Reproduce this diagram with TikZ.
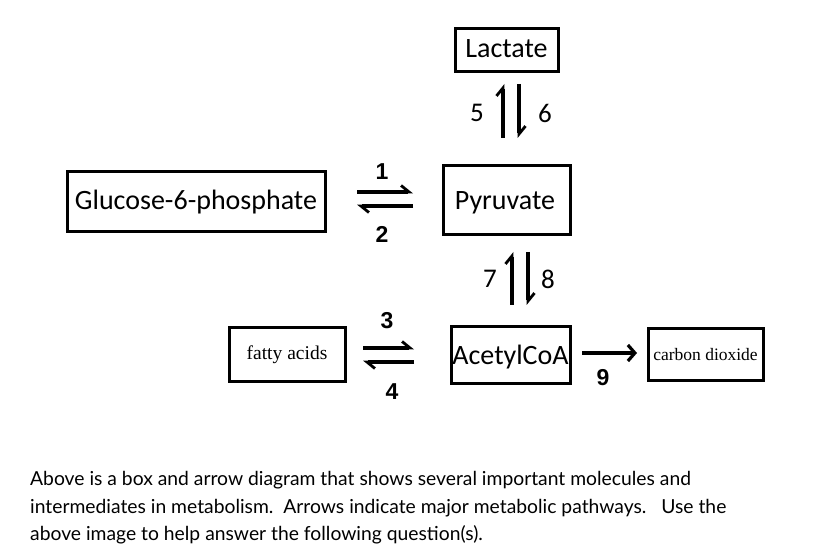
\documentclass[tikz,border=0pt]{standalone}
\usepackage{fontspec}
\setmainfont{Carlito}
\newfontfamily\calfont{Carlito}
\newfontfamily\timesfont{Liberation Serif}
\newfontfamily\arialfont{Liberation Sans}
\newfontfamily\latofont{Lato}
\usetikzlibrary{arrows.meta}
\begin{document}
\begin{tikzpicture}[x=1pt,y=-1pt,
  box/.style={draw,line width=3pt,inner sep=0pt,anchor=center},
  harp/.style={line width=3.5pt,-{Straight Barb[harpoon,length=8pt,width=13pt,line width=2.8pt]}},
  big/.style={font=\calfont\fontsize{28}{28}\selectfont,anchor=base,inner sep=0pt},
  numr/.style={font=\calfont\fontsize{27}{27}\selectfont},
  numb/.style={font=\arialfont\bfseries\fontsize{23}{23}\selectfont},
  para/.style={font=\latofont\fontsize{19.3}{27.5}\selectfont,anchor=base west,inner sep=0pt}]
\useasboundingbox (0,0) rectangle (823,556);
% boxes
\node[box,minimum width=103pt,minimum height=43pt] (lac) at (506.5,50.5) {};
\node[big] at (506.5,58) {Lactate};
\node[box,minimum width=258pt,minimum height=60pt] (g6p) at (196,202) {};
\node[big] at (196,210) {Glucose-6-phosphate};
\node[box,minimum width=127pt,minimum height=69pt] (pyr) at (506.5,200.5) {};
\node[big] at (505,210) {Pyruvate};
\node[box,minimum width=119pt,minimum height=57pt] (acc) at (510.5,355.5) {};
\node[big] at (510.5,365) {AcetylCoA};
\node[box,minimum width=116pt,minimum height=54pt] (fa) at (287,355) {};
\node[font=\timesfont\fontsize{19.5}{19.5}\selectfont] at (fa) {fatty acids};
\node[box,minimum width=115pt,minimum height=52pt] (co2) at (705.5,355) {};
\node[font=\timesfont\fontsize{17.5}{17.5}\selectfont] at (co2) {carbon dioxide};
% coordinates for arrows
\coordinate (a5s) at (503,138); \coordinate (a5e) at (503,84);
\coordinate (a6s) at (519,84); \coordinate (a6e) at (519,138);
\coordinate (a7s) at (512,305); \coordinate (a7e) at (512,252);
\coordinate (a8s) at (528,252); \coordinate (a8e) at (528,305);
\coordinate (a1s) at (357,192); \coordinate (a1e) at (413,192);
\coordinate (a2s) at (413,206); \coordinate (a2e) at (357,206);
\coordinate (a3s) at (363,348); \coordinate (a3e) at (414,348);
\coordinate (a4s) at (414,362); \coordinate (a4e) at (363,362);
\draw[harp] (a5s) -- (a5e);
\draw[harp] (a6s) -- (a6e);
\draw[harp] (a7s) -- (a7e);
\draw[harp] (a8s) -- (a8e);
\draw[harp] (a1s) -- (a1e);
\draw[harp] (a2s) -- (a2e);
\draw[harp] (a3s) -- (a3e);
\draw[harp] (a4s) -- (a4e);
\coordinate (n9s) at (582,353); \coordinate (n9e) at (637,353);
\draw[line width=3.5pt,-{Straight Barb[length=7pt,width=16pt,line width=3.2pt]}] (n9s) -- (n9e);
% labels
\node[numr] (l5) at (477,113) {5};
\node[numr] (l6) at (545,113) {6};
\node[numr] (l7) at (490,279) {7};
\node[numr] (l8) at (548,279) {8};
\node[numb] (l1) at (382,172) {1};
\node[numb] (l2) at (382,234) {2};
\node[numb] (l3) at (387,321) {3};
\node[numb] (l4) at (392,392) {4};
\node[numb] (l9) at (603,378) {9};
% paragraph
\node[para] (p1) at (30,485) {Above is a box and arrow diagram that shows several important molecules and};
\node[para] (p2) at (30,513) {intermediates in metabolism.\ \ Arrows indicate major metabolic pathways.\ \ \ Use the};
\node[para] (p3) at (30,540) {above image to help answer the following question(s).};
\end{tikzpicture}
\end{document}
